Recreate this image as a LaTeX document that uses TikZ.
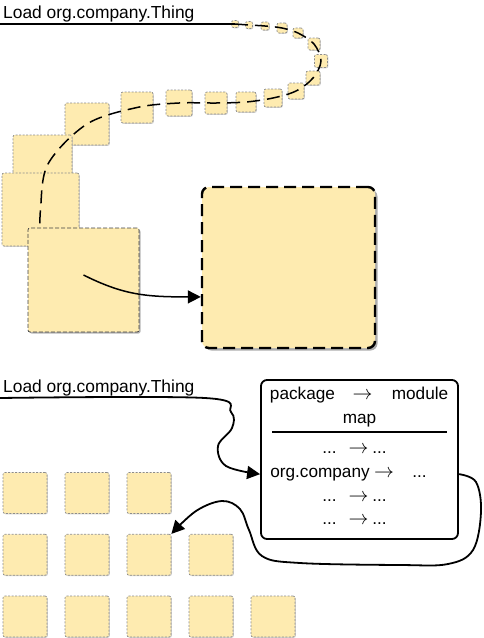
\documentclass[tikz,border=0pt]{standalone}
\usepackage{amsmath}
\usepackage{fontspec}
\setmainfont{Liberation Sans}
\usepackage{tikz}
\usetikzlibrary{shadows}
\usetikzlibrary{arrows.meta,calc}
\definecolor{chunkfill}{RGB}{254,235,176}
\newcommand{\mapdots}{...}
\newcommand{\maparrow}{\scalebox{1.15}{$\rightarrow$}}
\tikzstyle{chunk}=[draw=black!45, fill=chunkfill, line width=0.7pt, dash pattern=on 2pt off 1.5pt, rounded corners=2pt, inner sep=0pt, drop shadow={shadow xshift=0.8pt, shadow yshift=-0.8pt, fill=black!30, opacity=0.6}]
\tikzstyle{lastchunk}=[chunk, draw=black!75, dash pattern=on 4pt off 2pt, drop shadow={shadow xshift=1.5pt, shadow yshift=-1.5pt, fill=black!40, opacity=0.7}]
\tikzstyle{bigchunk}=[draw=black, fill=chunkfill, line width=2.4pt, dash pattern=on 12pt off 6pt, rounded corners=7pt, inner sep=0pt, drop shadow={shadow xshift=2.5pt, shadow yshift=-2.5pt, fill=black!40, opacity=0.8}]
\tikzstyle{loadtext}=[font=\fontsize{17.4}{20}\selectfont, inner sep=0pt, anchor=base west]
\tikzstyle{cell}=[font=\fontsize{17.2}{20}\selectfont, inner sep=0pt, anchor=base]
\tikzstyle{wire}=[draw, line width=1.5pt]
\tikzstyle{tip}=[-{Triangle[length=13pt,width=13pt]}]

\begin{document}
\begin{tikzpicture}[x=1pt, y=-1pt]
    \useasboundingbox (0,0) rectangle (484,638);
    % Loading a class: the request walks through the chunks
    \node[loadtext] (loadtop) at (3,18) {Load org.company.Thing};
    \coordinate (topstart) at (0,24);
    \foreach \pos/\w/\h/\name in {{(235,24)/7/7/c1}, {(249,25)/7/7/c2}, {(265,26)/8/8/c3},
                                 {(282,28)/10/10/c4}, {(298,33)/10/10/c5}, {(314,44)/12/12/c6},
                                 {(321,61)/13/13/c7}, {(313,78)/14/14/c8}, {(296,91)/16/16/c9},
                                 {(273,98)/18/18/c10}, {(246,102)/20/20/c11}, {(216,103)/22/22/c12},
                                 {(179,103)/26/26/c13}, {(137,107.5)/32/31/c14}, {(87,124)/44/42/c15},
                                 {(42.5,164.5)/59/59/c16}, {(40.5,209.5)/77/73/c17}}
        \node[chunk, minimum width=\w pt, minimum height=\h pt] (\name) at \pos {};
    \draw[line width=1.2pt] (topstart) -- (c1.center);
    \draw[wire, dash pattern=on 13pt off 7pt] plot[smooth, tension=0.55] coordinates
        {(c1.center) (c2.center) (c3.center) (c4.center) (c5.center) (c6.center) (c7.center)
         (c8.center) (c9.center) (c10.center) (c11.center) (c12.center) (c13.center)
         (c14.center) (c15.center) (48,164) (c17.center) (40,240)};
    \node[lastchunk, minimum width=111pt, minimum height=104pt] (c18) at (83.5,280) {};
    \node[bigchunk, minimum width=173pt, minimum height=161pt] (big) at (288.5,267.5) {};
    \draw[wire, tip] ([yshift=5pt]c18.center) .. controls +(40,20) and +(-55,0) .. ($(big.north west)!0.68!(big.south west)$);

    % Loading through the package to module map
    \node[loadtext] (loadlow) at (3,392.5) {Load org.company.Thing};
    \coordinate (lowstart) at (0,398);
    \node[draw, line width=1.8pt, rounded corners=6pt, minimum width=197pt, minimum height=159pt, fill=white] (map) at (359.5,459.5) {};
    \foreach \y/\kx/\key/\ax/\vx/\val/\name in {399/302.5/package/362.5/420/module/hd,
                                                453/329.5/\mapdots/358.5/379.5/\mapdots/ra,
                                                477/320/org.company/384/419.5/\mapdots/rb,
                                                501/329.5/\mapdots/358.5/379.5/\mapdots/rc,
                                                524/329.5/\mapdots/358.5/379.5/\mapdots/rd}
    {
        \node[cell] (\name key) at (\kx,\y) {\key};
        \node[cell] (\name arr) at (\ax,\y) {\maparrow};
        \node[cell] (\name val) at (\vx,\y) {\val};
    }
    \node[cell] (maptitle) at (359.5,423) {map};
    \draw[line width=1.3pt] (272,432) -- (447,432);

    % The loaded modules
    \foreach \r/\n in {1/3,2/4,3/5}
        \foreach \c in {1,...,\n}
            \node[chunk, minimum width=44pt, minimum height=41pt] (g\r\c) at ({25+62*(\c-1)}, {493+61.75*(\r-1)}) {};

    \draw[wire, line width=1.8pt, tip] plot[smooth, tension=0.6] coordinates
        {(lowstart) (205,398) (231,412) (232,428) (218,446) (226,466) (map.west |- rbkey.center)};
    \draw[wire, line width=1.8pt, tip] plot[smooth, tension=0.6] coordinates
        {(map.east |- rbkey.center) (476,482) (481,512) (473,550) (448,564) (400,565) (300,563)
         (262,556) (249,530) (240,509) (222,501) (196,511) (g23.north east)};
\end{tikzpicture}
\end{document}
